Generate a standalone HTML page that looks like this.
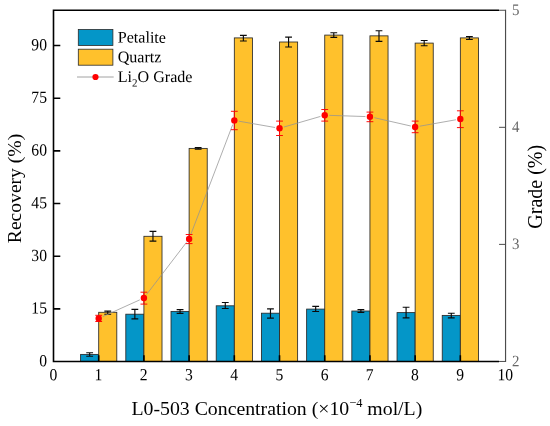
<!DOCTYPE html>
<html><head><meta charset="utf-8"><title>Recovery and Grade vs L0-503 Concentration</title>
<style>html,body{margin:0;padding:0;background:#fff}svg{display:block}text{font-family:'Liberation Serif', 'Times New Roman', serif}</style></head><body>
<svg width="550" height="426" viewBox="0 0 550 426">
<rect width="550" height="426" fill="#fff"/>
<rect x="80.60" y="354.40" width="18.10" height="7.05" fill="#0496c8" stroke="#2a2a2a" stroke-width="0.85"/>
<rect x="98.70" y="312.30" width="18.10" height="49.15" fill="#ffc12c" stroke="#2a2a2a" stroke-width="0.85"/>
<rect x="125.81" y="314.20" width="18.10" height="47.25" fill="#0496c8" stroke="#2a2a2a" stroke-width="0.85"/>
<rect x="143.91" y="236.30" width="18.10" height="125.15" fill="#ffc12c" stroke="#2a2a2a" stroke-width="0.85"/>
<rect x="171.02" y="311.40" width="18.10" height="50.05" fill="#0496c8" stroke="#2a2a2a" stroke-width="0.85"/>
<rect x="189.12" y="148.40" width="18.10" height="213.05" fill="#ffc12c" stroke="#2a2a2a" stroke-width="0.85"/>
<rect x="216.22" y="305.80" width="18.10" height="55.65" fill="#0496c8" stroke="#2a2a2a" stroke-width="0.85"/>
<rect x="234.32" y="37.90" width="18.10" height="323.55" fill="#ffc12c" stroke="#2a2a2a" stroke-width="0.85"/>
<rect x="261.42" y="313.20" width="18.10" height="48.25" fill="#0496c8" stroke="#2a2a2a" stroke-width="0.85"/>
<rect x="279.52" y="42.00" width="18.10" height="319.45" fill="#ffc12c" stroke="#2a2a2a" stroke-width="0.85"/>
<rect x="306.63" y="309.10" width="18.10" height="52.35" fill="#0496c8" stroke="#2a2a2a" stroke-width="0.85"/>
<rect x="324.73" y="35.10" width="18.10" height="326.35" fill="#ffc12c" stroke="#2a2a2a" stroke-width="0.85"/>
<rect x="351.83" y="311.00" width="18.10" height="50.45" fill="#0496c8" stroke="#2a2a2a" stroke-width="0.85"/>
<rect x="369.94" y="35.85" width="18.10" height="325.60" fill="#ffc12c" stroke="#2a2a2a" stroke-width="0.85"/>
<rect x="397.04" y="312.60" width="18.10" height="48.85" fill="#0496c8" stroke="#2a2a2a" stroke-width="0.85"/>
<rect x="415.14" y="43.10" width="18.10" height="318.35" fill="#ffc12c" stroke="#2a2a2a" stroke-width="0.85"/>
<rect x="442.24" y="315.40" width="18.10" height="46.05" fill="#0496c8" stroke="#2a2a2a" stroke-width="0.85"/>
<rect x="460.34" y="37.90" width="18.10" height="323.55" fill="#ffc12c" stroke="#2a2a2a" stroke-width="0.85"/>
<path d="M89.66 352.70V356.20M86.25 352.70H93.06M86.25 356.20H93.06" stroke="#0a0a0a" stroke-width="1.15" fill="none"/>
<path d="M107.75 311.10V314.20M104.35 311.10H111.16M104.35 314.20H111.16" stroke="#0a0a0a" stroke-width="1.15" fill="none"/>
<path d="M134.86 309.30V318.80M131.46 309.30H138.26M131.46 318.80H138.26" stroke="#0a0a0a" stroke-width="1.15" fill="none"/>
<path d="M152.96 231.30V241.10M149.56 231.30H156.36M149.56 241.10H156.36" stroke="#0a0a0a" stroke-width="1.15" fill="none"/>
<path d="M180.06 309.60V313.40M176.66 309.60H183.47M176.66 313.40H183.47" stroke="#0a0a0a" stroke-width="1.15" fill="none"/>
<path d="M198.17 147.60V149.20M194.77 147.60H201.57M194.77 149.20H201.57" stroke="#0a0a0a" stroke-width="1.15" fill="none"/>
<path d="M225.27 302.50V308.50M221.87 302.50H228.67M221.87 308.50H228.67" stroke="#0a0a0a" stroke-width="1.15" fill="none"/>
<path d="M243.37 35.30V41.00M239.97 35.30H246.77M239.97 41.00H246.77" stroke="#0a0a0a" stroke-width="1.15" fill="none"/>
<path d="M270.47 308.80V318.10M267.07 308.80H273.87M267.07 318.10H273.87" stroke="#0a0a0a" stroke-width="1.15" fill="none"/>
<path d="M288.57 37.10V47.00M285.18 37.10H291.97M285.18 47.00H291.97" stroke="#0a0a0a" stroke-width="1.15" fill="none"/>
<path d="M315.68 306.40V311.50M312.28 306.40H319.08M312.28 311.50H319.08" stroke="#0a0a0a" stroke-width="1.15" fill="none"/>
<path d="M333.78 32.70V37.40M330.38 32.70H337.18M330.38 37.40H337.18" stroke="#0a0a0a" stroke-width="1.15" fill="none"/>
<path d="M360.88 309.60V312.40M357.49 309.60H364.28M357.49 312.40H364.28" stroke="#0a0a0a" stroke-width="1.15" fill="none"/>
<path d="M378.99 30.70V41.30M375.59 30.70H382.38M375.59 41.30H382.38" stroke="#0a0a0a" stroke-width="1.15" fill="none"/>
<path d="M406.09 307.20V317.80M402.69 307.20H409.49M402.69 317.80H409.49" stroke="#0a0a0a" stroke-width="1.15" fill="none"/>
<path d="M424.19 40.50V45.70M420.79 40.50H427.59M420.79 45.70H427.59" stroke="#0a0a0a" stroke-width="1.15" fill="none"/>
<path d="M451.29 313.20V317.80M447.89 313.20H454.69M447.89 317.80H454.69" stroke="#0a0a0a" stroke-width="1.15" fill="none"/>
<path d="M469.39 36.60V39.50M466.00 36.60H472.79M466.00 39.50H472.79" stroke="#0a0a0a" stroke-width="1.15" fill="none"/>
<line x1="102.81" y1="316.55" x2="139.81" y2="299.85" stroke="#939393" stroke-width="0.75"/>
<line x1="146.64" y1="294.43" x2="186.38" y2="242.47" stroke="#939393" stroke-width="0.75"/>
<line x1="190.72" y1="234.70" x2="232.72" y2="124.60" stroke="#939393" stroke-width="0.75"/>
<line x1="238.75" y1="121.17" x2="275.09" y2="127.53" stroke="#939393" stroke-width="0.75"/>
<line x1="283.85" y1="127.05" x2="320.41" y2="116.45" stroke="#939393" stroke-width="0.75"/>
<line x1="329.23" y1="115.35" x2="365.44" y2="116.55" stroke="#939393" stroke-width="0.75"/>
<line x1="374.32" y1="117.70" x2="410.75" y2="126.00" stroke="#939393" stroke-width="0.75"/>
<line x1="419.57" y1="126.22" x2="455.91" y2="119.78" stroke="#939393" stroke-width="0.75"/>
<path d="M98.70 315.30V321.50M95.30 315.30H102.11M95.30 321.50H102.11" stroke="#ff0000" stroke-width="0.95" fill="none"/>
<circle cx="98.70" cy="318.40" r="3.2" fill="#ff0000"/>
<path d="M143.91 292.20V304.10M140.51 292.20H147.31M140.51 304.10H147.31" stroke="#ff0000" stroke-width="0.95" fill="none"/>
<circle cx="143.91" cy="298.00" r="3.2" fill="#ff0000"/>
<path d="M189.12 234.50V243.60M185.72 234.50H192.52M185.72 243.60H192.52" stroke="#ff0000" stroke-width="0.95" fill="none"/>
<circle cx="189.12" cy="238.90" r="3.2" fill="#ff0000"/>
<path d="M234.32 111.30V129.70M230.92 111.30H237.72M230.92 129.70H237.72" stroke="#ff0000" stroke-width="0.95" fill="none"/>
<circle cx="234.32" cy="120.40" r="3.2" fill="#ff0000"/>
<path d="M279.52 121.10V135.50M276.12 121.10H282.92M276.12 135.50H282.92" stroke="#ff0000" stroke-width="0.95" fill="none"/>
<circle cx="279.52" cy="128.30" r="3.2" fill="#ff0000"/>
<path d="M324.73 109.50V121.10M321.33 109.50H328.13M321.33 121.10H328.13" stroke="#ff0000" stroke-width="0.95" fill="none"/>
<circle cx="324.73" cy="115.20" r="3.2" fill="#ff0000"/>
<path d="M369.94 112.10V121.70M366.54 112.10H373.33M366.54 121.70H373.33" stroke="#ff0000" stroke-width="0.95" fill="none"/>
<circle cx="369.94" cy="116.70" r="3.2" fill="#ff0000"/>
<path d="M415.14 121.10V132.70M411.74 121.10H418.54M411.74 132.70H418.54" stroke="#ff0000" stroke-width="0.95" fill="none"/>
<circle cx="415.14" cy="127.00" r="3.2" fill="#ff0000"/>
<path d="M460.34 110.80V127.60M456.94 110.80H463.74M456.94 127.60H463.74" stroke="#ff0000" stroke-width="0.95" fill="none"/>
<circle cx="460.34" cy="119.00" r="3.2" fill="#ff0000"/>
<path d="M505.55 9.75V361.95" stroke="#4c4c4c" stroke-width="1.15" fill="none"/>
<path d="M505.55 361.45H499.05M505.55 244.38H499.05M505.55 127.32H499.05M505.55 10.25H499.05" stroke="#4c4c4c" stroke-width="1.0" fill="none"/>
<path d="M499.00 10.25H53.50V361.45H499.00" stroke="#000" stroke-width="1.6" fill="none" stroke-linejoin="miter"/>
<path d="M53.50 308.92H60.30M53.50 256.24H60.30M53.50 203.56H60.30M53.50 150.88H60.30M53.50 98.20H60.30M53.50 45.52H60.30M98.70 361.45V355.15M143.91 361.45V355.15M189.12 361.45V355.15M234.32 361.45V355.15M279.52 361.45V355.15M324.73 361.45V355.15M369.94 361.45V355.15M415.14 361.45V355.15M460.34 361.45V355.15" stroke="#000" stroke-width="1.6" fill="none"/>
<text transform="translate(47.00 366.25) rotate(0.05) scale(0.92 1)" font-size="17" text-anchor="end" fill="#000">0</text>
<text transform="translate(47.00 313.57) rotate(0.05) scale(0.92 1)" font-size="17" text-anchor="end" fill="#000">15</text>
<text transform="translate(47.00 260.89) rotate(0.05) scale(0.92 1)" font-size="17" text-anchor="end" fill="#000">30</text>
<text transform="translate(47.00 208.21) rotate(0.05) scale(0.92 1)" font-size="17" text-anchor="end" fill="#000">45</text>
<text transform="translate(47.00 155.53) rotate(0.05) scale(0.92 1)" font-size="17" text-anchor="end" fill="#000">60</text>
<text transform="translate(47.00 102.85) rotate(0.05) scale(0.92 1)" font-size="17" text-anchor="end" fill="#000">75</text>
<text transform="translate(47.00 50.17) rotate(0.05) scale(0.92 1)" font-size="17" text-anchor="end" fill="#000">90</text>
<text transform="translate(53.30 380.20) rotate(0.05) scale(0.92 1)" font-size="17" text-anchor="middle" fill="#000">0</text>
<text transform="translate(98.50 380.20) rotate(0.05) scale(0.92 1)" font-size="17" text-anchor="middle" fill="#000">1</text>
<text transform="translate(143.71 380.20) rotate(0.05) scale(0.92 1)" font-size="17" text-anchor="middle" fill="#000">2</text>
<text transform="translate(188.92 380.20) rotate(0.05) scale(0.92 1)" font-size="17" text-anchor="middle" fill="#000">3</text>
<text transform="translate(234.12 380.20) rotate(0.05) scale(0.92 1)" font-size="17" text-anchor="middle" fill="#000">4</text>
<text transform="translate(279.32 380.20) rotate(0.05) scale(0.92 1)" font-size="17" text-anchor="middle" fill="#000">5</text>
<text transform="translate(324.53 380.20) rotate(0.05) scale(0.92 1)" font-size="17" text-anchor="middle" fill="#000">6</text>
<text transform="translate(369.74 380.20) rotate(0.05) scale(0.92 1)" font-size="17" text-anchor="middle" fill="#000">7</text>
<text transform="translate(414.94 380.20) rotate(0.05) scale(0.92 1)" font-size="17" text-anchor="middle" fill="#000">8</text>
<text transform="translate(460.14 380.20) rotate(0.05) scale(0.92 1)" font-size="17" text-anchor="middle" fill="#000">9</text>
<text transform="translate(505.35 380.20) rotate(0.05) scale(0.92 1)" font-size="17" text-anchor="middle" fill="#000">10</text>
<text transform="translate(511.95 366.15) rotate(0.05) scale(0.93 1)" font-size="16" text-anchor="start" fill="#666">2</text>
<text transform="translate(511.95 249.08) rotate(0.05) scale(0.93 1)" font-size="16" text-anchor="start" fill="#666">3</text>
<text transform="translate(511.95 132.02) rotate(0.05) scale(0.93 1)" font-size="16" text-anchor="start" fill="#666">4</text>
<text transform="translate(511.95 14.95) rotate(0.05) scale(0.93 1)" font-size="16" text-anchor="start" fill="#666">5</text>
<text transform="translate(20.5 188.5) rotate(-90)" font-size="19.6" text-anchor="middle" fill="#000">Recovery (%)</text>
<text transform="translate(541.8 186.8) rotate(-90)" font-size="20" text-anchor="middle" fill="#000">Grade (%)</text>
<text x="276.9" y="415" font-size="19.8" text-anchor="middle" fill="#000">L0-503 Concentration (×10<tspan font-size="12.4" dy="-8">−4</tspan><tspan dy="8"> mol/L)</tspan></text>
<rect x="78.3" y="29.5" width="34.6" height="16" fill="#0496c8" stroke="#2a2a2a" stroke-width="0.8"/>
<rect x="78.3" y="49.2" width="34.6" height="16" fill="#ffc12c" stroke="#2a2a2a" stroke-width="0.8"/>
<line x1="77" y1="77" x2="113.7" y2="77" stroke="#8c8c8c" stroke-width="0.8"/>
<circle cx="95.5" cy="77" r="3.1" fill="#ff0000"/>
<text transform="translate(117.7 42.6) rotate(0.05)" font-size="16.1" fill="#000">Petalite</text>
<text transform="translate(117.7 62.3) rotate(0.05)" font-size="16.1" fill="#000">Quartz</text>
<text transform="translate(117.7 82.0) rotate(0.05)" font-size="16.1" fill="#000">Li<tspan font-size="11" dy="4.4">2</tspan><tspan dy="-4.4">O Grade</tspan></text>
</svg></body></html>
